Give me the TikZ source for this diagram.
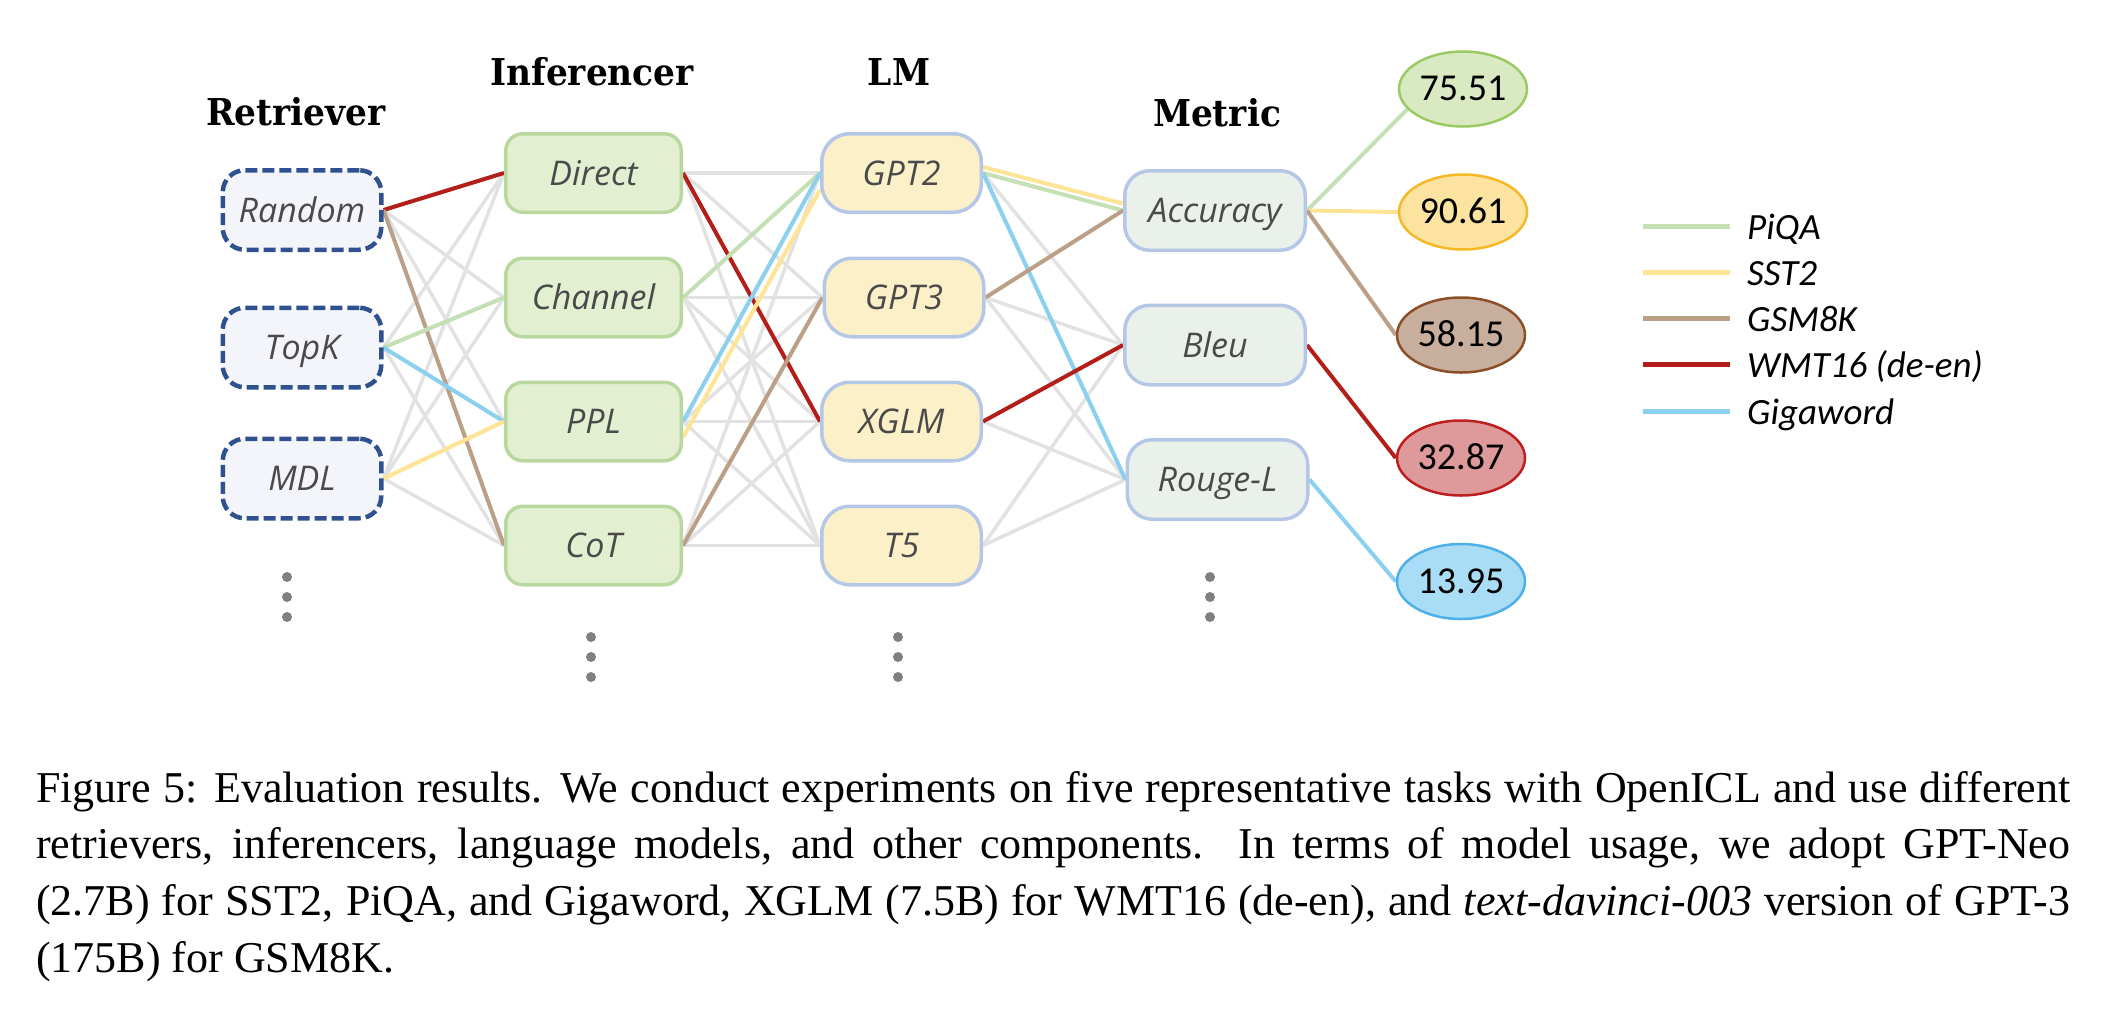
\documentclass[tikz,border=0pt]{standalone}
\usepackage{fontspec}
\setmainfont{Liberation Serif}
\newfontfamily\titlefont[FakeStretch=0.93]{DejaVu Serif}
\newfontfamily\boxfont{Open Sans}
\newfontfamily\numfont{Carlito}
\usetikzlibrary{shapes.geometric}
\definecolor{retb}{RGB}{47,82,143}
\definecolor{retf}{RGB}{243,245,251}
\definecolor{infb}{RGB}{184,216,160}
\definecolor{inff}{RGB}{226,239,208}
\definecolor{lmb}{RGB}{180,199,231}
\definecolor{lmf}{RGB}{252,240,200}
\definecolor{metf}{RGB}{234,241,235}
\definecolor{txtc}{RGB}{74,74,74}
\definecolor{lgray}{RGB}{226,226,226}
\definecolor{cgr}{RGB}{197,224,180}
\definecolor{cye}{RGB}{255,228,150}
\definecolor{cbr}{RGB}{187,160,135}
\definecolor{cre}{RGB}{180,30,25}
\definecolor{cbl}{RGB}{140,208,240}
\definecolor{dotc}{RGB}{128,128,128}
\definecolor{e1f}{RGB}{217,234,194}\definecolor{e1b}{RGB}{155,202,100}
\definecolor{e2f}{RGB}{252,228,160}\definecolor{e2b}{RGB}{245,185,40}
\definecolor{e3f}{RGB}{200,174,156}\definecolor{e3b}{RGB}{140,80,40}
\definecolor{e4f}{RGB}{222,154,154}\definecolor{e4b}{RGB}{190,30,30}
\definecolor{e5f}{RGB}{169,220,245}\definecolor{e5b}{RGB}{78,176,232}
\pgfdeclarelayer{bg}
\pgfsetlayers{bg,main}
\begin{document}
\begin{tikzpicture}[x=1pt,y=-1pt,
  boxbase/.style={inner sep=0pt, text=txtc, text height=24pt, text depth=0pt,
    font={\boxfont\itshape\fontsize{34}{40}\selectfont}},
  retbox/.style={boxbase, draw=retb, fill=retf, line width=4.5pt, dash pattern=on 12pt off 5pt,
    rounded corners=22pt, minimum width=158.5pt, minimum height=79.5pt},
  infbox/.style={boxbase, draw=infb, fill=inff, line width=3.5pt, rounded corners=17pt,
    minimum width=175.5pt, minimum height=78.5pt},
  lmbox/.style={boxbase, draw=lmb, fill=lmf, line width=3.5pt, rounded corners=28pt,
    minimum width=159.5pt, minimum height=78.5pt},
  metbox/.style={boxbase, draw=lmb, fill=metf, line width=3.5pt, rounded corners=25pt,
    minimum width=180.5pt, minimum height=79.5pt},
  resell/.style={ellipse, inner sep=0pt, line width=2.5pt, minimum width=128pt, minimum height=75pt,
    text=black, text height=23pt, text depth=0pt, font={\numfont\fontsize{38}{42}\selectfont}},
  ttl/.style={inner sep=0pt, font={\titlefont\bfseries\fontsize{37}{44}\selectfont}},
  lgd/.style={inner sep=0pt, font={\numfont\itshape\fontsize{37}{44}\selectfont}},
  captxt/.style={inner sep=0pt, anchor=base west, font={\fontsize{44}{56.7}\selectfont}},
  gl/.style={draw=lgray, line width=3.5pt},
  cl/.style={line width=4pt},
]
\useasboundingbox (0,0) rectangle (2108,1026);

% titles
\node[ttl, anchor=base] (tret) at (296,125) {Retriever};
\node[ttl, anchor=base] (tinf) at (592,85) {Inferencer};
\node[ttl, anchor=base] (tlm) at (899,85) {LM};
\node[ttl, anchor=base] (tmet) at (1217,126) {Metric};

% retriever
\node[retbox] (random) at (302,210) {Random};
\node[retbox] (topk) at (302,347.5) {TopK};
\node[retbox] (mdl) at (302,478.5) {MDL};
% inferencer
\node[infbox] (direct) at (593.5,173) {Direct};
\node[infbox] (channel) at (593.5,297.5) {Channel};
\node[infbox] (ppl) at (593.5,421.5) {PPL};
\node[infbox] (cot) at (593.5,545.5) {CoT};
% LM
\node[lmbox] (gpt2) at (901.5,173) {GPT2};
\node[lmbox] (gpt3) at (904,297.5) {GPT3};
\node[lmbox] (xglm) at (901.5,421.5) {XGLM};
\node[lmbox] (t5) at (901.5,545.5) {T5};
% metric
\node[metbox] (acc) at (1215,210.5) {Accuracy};
\node[metbox] (bleu) at (1215,345) {Bleu};
\node[metbox] (rouge) at (1217.5,479.5) {Rouge-L};
% results
\node[resell, fill=e1f, draw=e1b] (e1) at (1463,89) {75.51};
\node[resell, fill=e2f, draw=e2b] (e2) at (1463,212) {90.61};
\node[resell, fill=e3f, draw=e3b] (e3) at (1461,335) {58.15};
\node[resell, fill=e4f, draw=e4b] (e4) at (1461,458) {32.87};
\node[resell, fill=e5f, draw=e5b] (e5) at (1461,581.5) {13.95};

% dots
\foreach \x/\y in {287/577,591/637,898/637,1210/577}{
  \foreach \k in {0,20,40}{\fill[dotc] (\x,\y+\k) circle (5pt);}
}

\begin{pgfonlayer}{bg}
\foreach \a in {random,topk,mdl}{\foreach \b in {direct,channel,ppl,cot}{\draw[gl] (\a.east) -- (\b.west);}}
\foreach \a in {direct,channel,ppl,cot}{\foreach \b in {gpt2,gpt3,xglm,t5}{\draw[gl] (\a.east) -- (\b.west);}}
\foreach \a/\b in {gpt2/bleu,gpt2/rouge,gpt3/bleu,gpt3/rouge,xglm/rouge,t5/bleu,t5/rouge}{\draw[gl] (\a.east) -- (\b.west);}
% retriever -> inferencer
\draw[cl, cre] (random.east) -- (direct.west);
\draw[cl, cbr] (random.east) -- (cot.west);
\draw[cl, cgr] (topk.east) -- (channel.west);
\draw[cl, cbl] (topk.east) -- (ppl.west);
\draw[cl, cye] (mdl.east) -- (ppl.west);
% inferencer -> LM
\draw[cl, cre] (direct.east) -- (xglm.west);
\draw[cl, cgr] (channel.east) -- (gpt2.west);
\draw[cl, cbl] (ppl.east) -- (gpt2.west);
\draw[cl, cye] ([yshift=-16pt]ppl.east) -- ([yshift=-17pt]gpt2.west);
\draw[cl, cbr] (cot.east) -- (gpt3.west);
% LM -> metric
\draw[cl, cgr] (gpt2.east) -- (acc.west);
\draw[cl, cye] ([yshift=6pt]gpt2.east) -- ([yshift=7pt]acc.west);
\draw[cl, cbl] (gpt2.east) -- (rouge.west);
\draw[cl, cbr] (gpt3.east) -- (acc.west);
\draw[cl, cre] (xglm.east) -- (bleu.west);
% metric -> results
\draw[cl, cgr] (acc.east) -- (e1.200);
\draw[cl, cye] (acc.east) -- (e2.west);
\draw[cl, cbr] (acc.east) -- (e3.west);
\draw[cl, cre] (bleu.east) -- (e4.west);
\draw[cl, cbl] (rouge.east) -- (e5.west);
\end{pgfonlayer}

% legend
\draw[line width=5pt, cgr] (1643,226) -- (1730,226);
\draw[line width=5pt, cye] (1643,272) -- (1730,272);
\draw[line width=5pt, cbr] (1643,318) -- (1730,318);
\draw[line width=5pt, cre] (1643,364) -- (1730,364);
\draw[line width=5pt, cbl] (1643,411) -- (1730,411);
\node[lgd, anchor=base west] (lg1) at (1747,239) {PiQA};
\node[lgd, anchor=base west] (lg2) at (1747,285) {SST2};
\node[lgd, anchor=base west] (lg3) at (1747,331) {GSM8K};
\node[lgd, anchor=base west] (lg4) at (1747,377) {WMT16 (de-en)};
\node[lgd, anchor=base west] (lg5) at (1747,424) {Gigaword};

% caption
\node[captxt] (c1) at (36,802) {\makebox[2034pt][s]{Figure 5: Evaluation results. We conduct experiments on five representative tasks with OpenICL and use different}};
\node[captxt] (c2) at (36,858.7) {\makebox[2034pt][s]{retrievers, inferencers, language models, and other components.\ \ In terms of model usage, we adopt GPT-Neo}};
\node[captxt] (c3) at (36,915.4) {\makebox[2034pt][s]{(2.7B) for SST2, PiQA, and Gigaword, XGLM (7.5B) for WMT16 (de-en), and \textit{text-davinci-003} version of GPT-3}};
\node[captxt] (c4) at (36,972.1) {(175B) for GSM8K.};
\end{tikzpicture}
\end{document}
